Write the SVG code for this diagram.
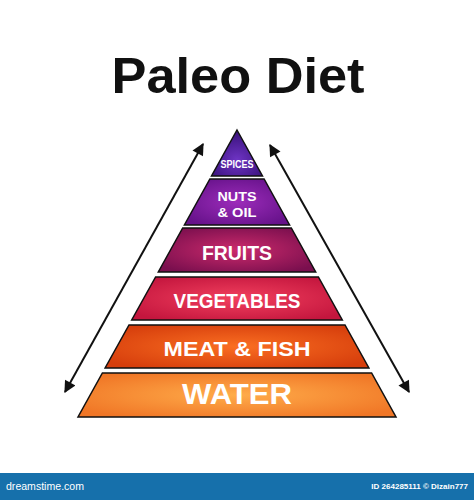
<svg xmlns="http://www.w3.org/2000/svg" width="474" height="500" viewBox="0 0 474 500">
<defs>
<style>
.tier{stroke:#111;stroke-width:1.5;stroke-linejoin:miter}
.lbl{font-family:"Liberation Sans",Arial,sans-serif;font-weight:bold;fill:#fff;text-anchor:middle}
.arrow{stroke:#111;stroke-width:2;fill:none}
</style>
<radialGradient id="gSp" cx="50%" cy="65%" r="60%"><stop offset="0" stop-color="#6e34c4"/><stop offset="1" stop-color="#3a127c"/></radialGradient>
<radialGradient id="gNu" cx="50%" cy="50%" r="60%"><stop offset="0" stop-color="#9c2cba"/><stop offset="1" stop-color="#66128a"/></radialGradient>
<radialGradient id="gFr" cx="50%" cy="50%" r="60%"><stop offset="0" stop-color="#cc2a6c"/><stop offset="1" stop-color="#7a0f4e"/></radialGradient>
<radialGradient id="gVe" cx="50%" cy="50%" r="60%"><stop offset="0" stop-color="#f2405e"/><stop offset="1" stop-color="#c4163e"/></radialGradient>
<radialGradient id="gMe" cx="50%" cy="50%" r="60%"><stop offset="0" stop-color="#fa6e22"/><stop offset="1" stop-color="#d63e0c"/></radialGradient>
<radialGradient id="gWa" cx="50%" cy="50%" r="60%"><stop offset="0" stop-color="#ffac4a"/><stop offset="1" stop-color="#f07626"/></radialGradient>
<marker id="ah" viewBox="0 0 10 10" refX="9" refY="5" markerWidth="7" markerHeight="6" orient="auto-start-reverse" markerUnits="strokeWidth"><path d="M0,0 L10,5 L0,10 Z" fill="#111"/></marker>
</defs>
<rect width="474" height="500" fill="#fff"/>
<text id="title" x="238" y="93" font-family="'Liberation Sans',Arial,sans-serif" font-weight="bold" font-size="50" text-anchor="middle" textLength="253" lengthAdjust="spacingAndGlyphs" fill="#111">Paleo Diet</text>
<g id="connectors">
<line class="arrow" x1="203" y1="144" x2="65" y2="392" marker-start="url(#ah)" marker-end="url(#ah)"/>
<line class="arrow" x1="270" y1="145" x2="409" y2="392" marker-start="url(#ah)" marker-end="url(#ah)"/>
</g>
<g id="spices">
<polygon class="tier" points="237,130 262.5,176 211.5,176" fill="url(#gSp)"/>
<text class="lbl" x="237" y="168" font-size="10" textLength="33" lengthAdjust="spacingAndGlyphs">SPICES</text>
</g>
<g id="nuts">
<polygon class="tier" points="209.9,179 264.1,179 289.6,225 184.4,225" fill="url(#gNu)"/>
<text class="lbl" x="237" y="201" font-size="13" textLength="39" lengthAdjust="spacingAndGlyphs">NUTS</text>
<text class="lbl" x="237" y="217" font-size="13" textLength="39" lengthAdjust="spacingAndGlyphs">&amp; OIL</text>
</g>
<g id="fruits">
<polygon class="tier" points="182.7,228 291.3,228 315.7,272 158.3,272" fill="url(#gFr)"/>
<text class="lbl" x="237" y="260" font-size="20" textLength="70" lengthAdjust="spacingAndGlyphs">FRUITS</text>
</g>
<g id="vegetables">
<polygon class="tier" points="155.6,277 318.4,277 342.3,320 131.7,320" fill="url(#gVe)"/>
<text class="lbl" x="237" y="308" font-size="20" textLength="127" lengthAdjust="spacingAndGlyphs">VEGETABLES</text>
</g>
<g id="meat">
<polygon class="tier" points="129,325 345,325 368.9,368 105.1,368" fill="url(#gMe)"/>
<text class="lbl" x="237" y="356" font-size="21" textLength="147" lengthAdjust="spacingAndGlyphs">MEAT &amp; FISH</text>
</g>
<g id="water">
<polygon class="tier" points="102.4,373 371.6,373 396,417 78,417" fill="url(#gWa)"/>
<text class="lbl" x="237" y="404" font-size="30" textLength="110" lengthAdjust="spacingAndGlyphs">WATER</text>
</g>
<g id="footer">
<rect x="0" y="473" width="474" height="27" fill="#1670ab"/>
<text x="6" y="490" font-family="'Liberation Sans',Arial,sans-serif" font-size="11" fill="#fff" textLength="78" lengthAdjust="spacingAndGlyphs">dreamstime.com</text>
<text x="468" y="489" font-family="'Liberation Sans',Arial,sans-serif" font-weight="bold" font-size="8" fill="#fff" text-anchor="end">ID 264285111 © Dizain777</text>
</g>
</svg>
